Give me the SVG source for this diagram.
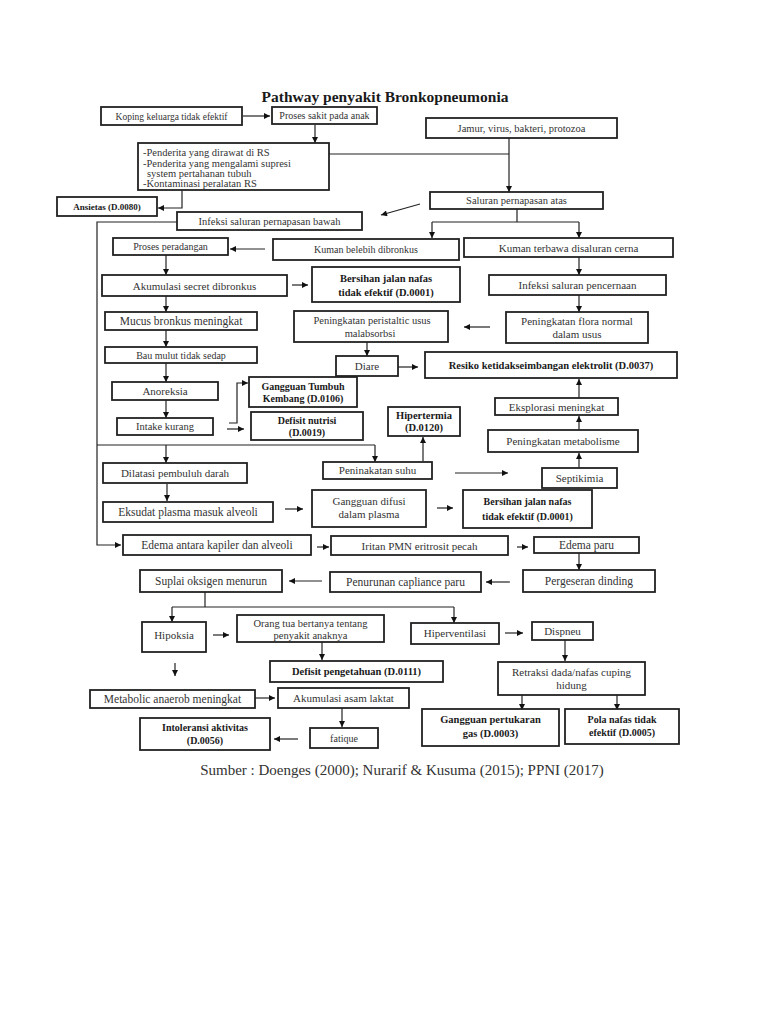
<svg xmlns="http://www.w3.org/2000/svg" width="768" height="1024" viewBox="0 0 768 1024">
<style>
.box{fill:#fff;stroke:#222;stroke-width:1.8}
.t{font-family:"Liberation Serif","Times New Roman",serif;fill:#333;text-anchor:middle}
.l{text-anchor:start}
.b{font-weight:bold;fill:#1a1a1a}
.c{fill:none;stroke:#222;stroke-width:1.2}
.a{marker-end:url(#ah)}
</style>
<defs>
<marker id="ah" viewBox="0 0 10 10" refX="10" refY="5" markerWidth="7" markerHeight="6" markerUnits="userSpaceOnUse" orient="auto"><path d="M0,0 L10,5 L0,10 z" fill="#111"/></marker>
</defs>
<rect width="768" height="1024" fill="#fff"/>
<text class="t b" x="385" y="102" font-size="15.5">Pathway penyakit Bronkopneumonia</text>

<g id="connectors">
<path class="c a" d="M243,116 H270"/>
<path class="c a" d="M315,125 V143"/>
<path class="c" d="M329,154 H509"/>
<path class="c a" d="M509,138 V192"/>
<path class="c a" d="M182,190 V208 H158"/>
<path class="c a" d="M420,204 L381,215"/>
<path class="c" d="M517,209 V222 M432,222 H579"/>
<path class="c a" d="M432,222 V238"/>
<path class="c a" d="M579,222 V238"/>
<path class="c a" d="M265,249 H230"/>
<path class="c a" d="M166,255 V275"/>
<path class="c a" d="M292,285 H308"/>
<path class="c a" d="M166,296 V312"/>
<path class="c a" d="M166,330 V347"/>
<path class="c a" d="M166,363 V382"/>
<path class="c a" d="M166,400 V418"/>
<path class="c a" d="M227,429 H244"/>
<path class="c a" d="M229,423 H237 V383 H248"/>
<path class="c a" d="M579,257 V275"/>
<path class="c a" d="M579,295 V312"/>
<path class="c a" d="M490,327 H464"/>
<path class="c a" d="M322,333 H338"/>
<path class="c a" d="M367,342 V356"/>
<path class="c a" d="M398,367 H418"/>
<path class="c a" d="M579,398 V379"/>
<path class="c a" d="M579,430 V416"/>
<path class="c a" d="M579,468 V453"/>
<path class="c a" d="M177,222 H97 V545 H121"/>
<path class="c" d="M97,445 H375"/>
<path class="c a" d="M166,445 V463"/>
<path class="c a" d="M375,445 V462"/>
<path class="c a" d="M423,461 V437"/>
<path class="c a" d="M455,473 H508"/>
<path class="c a" d="M167,484 V501"/>
<path class="c a" d="M285,509 H303"/>
<path class="c a" d="M437,508 H453"/>
<path class="c a" d="M317,547 H329"/>
<path class="c a" d="M517,547 H528"/>
<path class="c a" d="M579,553 V570"/>
<path class="c a" d="M510,582 H486"/>
<path class="c a" d="M322,581 H289"/>
<path class="c" d="M205,592 V607 M172,607 H454"/>
<path class="c a" d="M172,607 V622"/>
<path class="c a" d="M454,607 V623"/>
<path class="c a" d="M213,635 H229"/>
<path class="c a" d="M322,642 V660"/>
<path class="c a" d="M175,663 V676"/>
<path class="c a" d="M505,633 H523"/>
<path class="c a" d="M565,640 V661"/>
<path class="c a" d="M522,695 V710"/>
<path class="c a" d="M617,695 V710"/>
<path class="c a" d="M255,698 H275"/>
<path class="c a" d="M342,708 V727"/>
<path class="c a" d="M298,739 H274"/>
</g>

<g id="koping"><rect class="box" x="101" y="107" width="141" height="18"/><text class="t" x="171.5" y="119.5" font-size="9.5">Koping keluarga tidak efektif</text></g>
<g id="proses-sakit"><rect class="box" x="272" y="107" width="105" height="17"/><text class="t" x="324.5" y="119" font-size="10">Proses sakit pada anak</text></g>
<g id="faktor"><rect class="box" x="138" y="143" width="191" height="47"/>
<text class="t l" x="143" y="156" font-size="10.5">-Penderita yang dirawat di RS</text>
<text class="t l" x="143" y="166.5" font-size="10.5">-Penderita yang mengalami supresi</text>
<text class="t l" x="147" y="176.5" font-size="10.5">system pertahanan tubuh</text>
<text class="t l" x="143" y="187" font-size="10.5">-Kontaminasi peralatan RS</text></g>
<g id="jamur"><rect class="box" x="426" y="118" width="191" height="20"/><text class="t" x="521.5" y="131.5" font-size="10.5">Jamur, virus, bakteri, protozoa</text></g>
<g id="saluran-atas"><rect class="box" x="430" y="192" width="173" height="17"/><text class="t" x="516.5" y="204" font-size="10.5">Saluran pernapasan atas</text></g>
<g id="ansietas"><rect class="box" x="57" y="197" width="100" height="19"/><text class="t b" x="107" y="209.5" font-size="9">Ansietas (D.0080)</text></g>
<g id="infeksi-bawah"><rect class="box" x="177" y="212" width="185" height="18"/><text class="t" x="269.5" y="224.5" font-size="10.5">Infeksi saluran pernapasan bawah</text></g>
<g id="peradangan"><rect class="box" x="113" y="238" width="115" height="17"/><text class="t" x="170.5" y="249.5" font-size="10">Proses peradangan</text></g>
<g id="kuman-belebih"><rect class="box" x="273" y="239" width="186" height="21"/><text class="t" x="366" y="252.5" font-size="10">Kuman belebih dibronkus</text></g>
<g id="kuman-terbawa"><rect class="box" x="464" y="238" width="209" height="19"/><text class="t" x="568.5" y="251.5" font-size="11">Kuman terbawa disaluran cerna</text></g>
<g id="akumulasi-secret"><rect class="box" x="102" y="275" width="185" height="21"/><text class="t" x="194.5" y="289.5" font-size="11">Akumulasi secret dibronkus</text></g>
<g id="bersihan1"><rect class="box" x="312" y="267" width="148" height="35"/><text class="t b" x="386" y="281.5" font-size="10.5">Bersihan jalan nafas</text><text class="t b" x="386" y="295.5" font-size="10.5">tidak efektif (D.0001)</text></g>
<g id="infeksi-cerna"><rect class="box" x="489" y="275" width="177" height="20"/><text class="t" x="577.5" y="288.5" font-size="11">Infeksi saluran pencernaan</text></g>
<g id="mucus"><rect class="box" x="105" y="312" width="152" height="18"/><text class="t" x="181" y="325" font-size="11.5">Mucus bronkus meningkat</text></g>
<g id="peristaltic"><rect class="box" x="294" y="311" width="154" height="31"/><text class="t" x="372" y="324" font-size="10.5">Peningkatan peristaltic usus</text><text class="t" x="370" y="337" font-size="10.5">malabsorbsi</text></g>
<g id="flora"><rect class="box" x="506" y="312" width="142" height="31"/><text class="t" x="577" y="325" font-size="11">Peningkatan flora normal</text><text class="t" x="577" y="338" font-size="11">dalam usus</text></g>
<g id="bau-mulut"><rect class="box" x="105" y="347" width="152" height="16"/><text class="t" x="181" y="358.5" font-size="10">Bau mulut tidak sedap</text></g>
<g id="diare"><rect class="box" x="336" y="356" width="62" height="20"/><text class="t" x="367" y="369.5" font-size="11">Diare</text></g>
<g id="resiko"><rect class="box" x="425" y="352" width="252" height="26"/><text class="t b" x="551" y="368.5" font-size="10.5">Resiko ketidakseimbangan elektrolit (D.0037)</text></g>
<g id="anoreksia"><rect class="box" x="112" y="382" width="106" height="18"/><text class="t" x="165" y="394.5" font-size="11">Anoreksia</text></g>
<g id="gangguan-tumbuh"><rect class="box" x="249" y="377" width="108" height="30"/><text class="t b" x="303" y="389.5" font-size="10">Gangguan Tumbuh</text><text class="t b" x="303" y="401.5" font-size="10">Kembang (D.0106)</text></g>
<g id="eksplorasi"><rect class="box" x="495" y="398" width="123" height="17"/><text class="t" x="556.5" y="410.5" font-size="11">Eksplorasi meningkat</text></g>
<g id="hipertermia"><rect class="box" x="388" y="407" width="72" height="29"/><text class="t b" x="424" y="419" font-size="10.5">Hipertermia</text><text class="t b" x="424" y="431" font-size="10.5">(D.0120)</text></g>
<g id="defisit-nutrisi"><rect class="box" x="251" y="412" width="112" height="28"/><text class="t b" x="307" y="424" font-size="10">Defisit nutrisi</text><text class="t b" x="307" y="436" font-size="10">(D.0019)</text></g>
<g id="intake"><rect class="box" x="117" y="418" width="96" height="17"/><text class="t" x="165" y="430" font-size="10.5">Intake kurang</text></g>
<g id="metabolisme"><rect class="box" x="488" y="430" width="150" height="22"/><text class="t" x="563" y="444.5" font-size="11">Peningkatan metabolisme</text></g>
<g id="suhu"><rect class="box" x="323" y="462" width="109" height="17"/><text class="t" x="377.5" y="474" font-size="11">Peninakatan suhu</text></g>
<g id="dilatasi"><rect class="box" x="103" y="463" width="144" height="20"/><text class="t" x="175" y="476.5" font-size="11">Dilatasi pembuluh darah</text></g>
<g id="septikimia"><rect class="box" x="542" y="468" width="75" height="20"/><text class="t" x="579.5" y="481.5" font-size="11">Septikimia</text></g>
<g id="eksudat"><rect class="box" x="103" y="502" width="170" height="20"/><text class="t" x="188" y="515.5" font-size="11.5">Eksudat plasma masuk alveoli</text></g>
<g id="difusi"><rect class="box" x="312" y="490" width="114" height="37"/><text class="t" x="369" y="505" font-size="11">Gangguan difusi</text><text class="t" x="369" y="518" font-size="11">dalam plasma</text></g>
<g id="bersihan2"><rect class="box" x="463" y="490" width="129" height="38"/><text class="t b" x="527.5" y="505" font-size="10">Bersihan jalan nafas</text><text class="t b" x="527.5" y="520" font-size="10">tidak efektif (D.0001)</text></g>
<g id="edema-antara"><rect class="box" x="123" y="535" width="188" height="20"/><text class="t" x="217" y="549" font-size="11.5">Edema antara kapiler dan alveoli</text></g>
<g id="iritan"><rect class="box" x="331" y="536" width="177" height="19"/><text class="t" x="419.5" y="549.5" font-size="11">Iritan PMN eritrosit pecah</text></g>
<g id="edema-paru"><rect class="box" x="534" y="537" width="105" height="16"/><text class="t" x="586.5" y="549" font-size="11.5">Edema paru</text></g>
<g id="pergeseran"><rect class="box" x="523" y="570" width="132" height="22"/><text class="t" x="589" y="585" font-size="11.5">Pergeseran dinding</text></g>
<g id="penurunan"><rect class="box" x="330" y="572" width="151" height="20"/><text class="t" x="405.5" y="586" font-size="11.5">Penurunan capliance paru</text></g>
<g id="suplai"><rect class="box" x="140" y="570" width="142" height="22"/><text class="t" x="211" y="585" font-size="11.5">Suplai oksigen menurun</text></g>
<g id="hipoksia"><rect class="box" x="142" y="622" width="64" height="30"/><text class="t" x="174" y="639" font-size="11">Hipoksia</text></g>
<g id="orang-tua"><rect class="box" x="237" y="615" width="147" height="27"/><text class="t" x="310.5" y="627" font-size="10.5">Orang tua bertanya tentang</text><text class="t" x="310.5" y="638.5" font-size="10.5">penyakit anaknya</text></g>
<g id="hiperventilasi"><rect class="box" x="411" y="623" width="88" height="21"/><text class="t" x="455" y="637" font-size="11">Hiperventilasi</text></g>
<g id="dispneu"><rect class="box" x="532" y="622" width="61" height="18"/><text class="t" x="562.5" y="634.5" font-size="11">Dispneu</text></g>
<g id="defisit-pengetahuan"><rect class="box" x="270" y="661" width="173" height="21"/><text class="t b" x="356.5" y="675" font-size="10.5">Defisit pengetahuan (D.0111)</text></g>
<g id="retraksi"><rect class="box" x="498" y="662" width="147" height="33"/><text class="t" x="571.5" y="676" font-size="11">Retraksi dada/nafas cuping</text><text class="t" x="571.5" y="689" font-size="11">hidung</text></g>
<g id="metabolic"><rect class="box" x="90" y="690" width="165" height="18"/><text class="t" x="172.5" y="702.5" font-size="11.5">Metabolic anaerob meningkat</text></g>
<g id="asam-laktat"><rect class="box" x="278" y="688" width="131" height="20"/><text class="t" x="343.5" y="701.5" font-size="11">Akumulasi asam laktat</text></g>
<g id="pertukaran-gas"><rect class="box" x="422" y="709" width="137" height="37"/><text class="t b" x="490.5" y="723" font-size="10.5">Gangguan pertukaran</text><text class="t b" x="490.5" y="737" font-size="10.5">gas (D.0003)</text></g>
<g id="pola-nafas"><rect class="box" x="565" y="709" width="114" height="35"/><text class="t b" x="622" y="723" font-size="10">Pola nafas tidak</text><text class="t b" x="622" y="736" font-size="10">efektif (D.0005)</text></g>
<g id="intoleransi"><rect class="box" x="140" y="718" width="130" height="32"/><text class="t b" x="205" y="731" font-size="10">Intoleransi aktivitas</text><text class="t b" x="205" y="744" font-size="10">(D.0056)</text></g>
<g id="fatique"><rect class="box" x="310" y="728" width="68" height="20"/><text class="t" x="344" y="741.5" font-size="10">fatique</text></g>

<text class="t" x="402" y="775" font-size="15" fill="#333">Sumber : Doenges (2000); Nurarif &amp; Kusuma (2015); PPNI (2017)</text>
</svg>
